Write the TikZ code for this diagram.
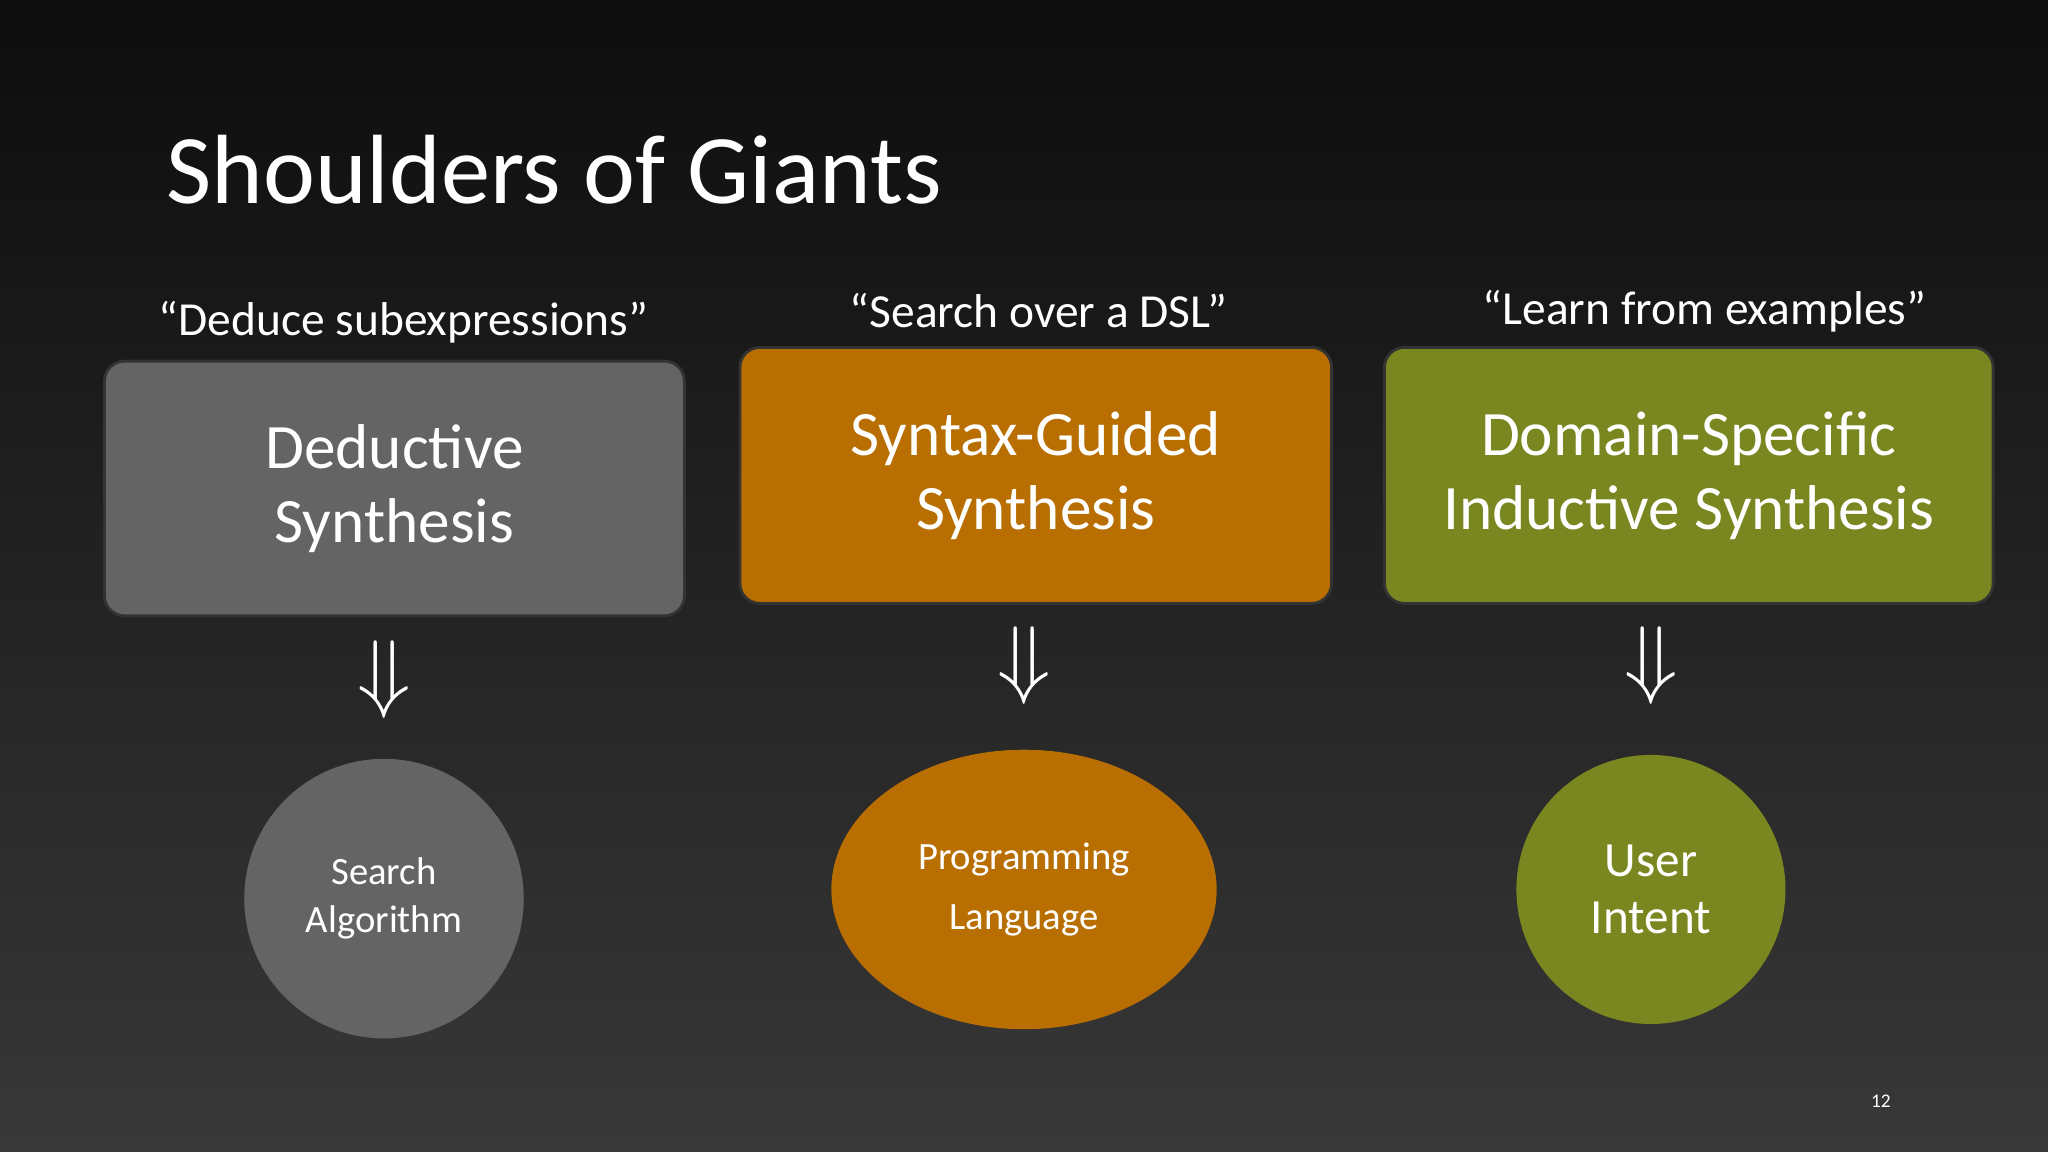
\documentclass[tikz,border=0pt]{standalone}
\usepackage{fontspec}
\setmainfont{Carlito}
\usetikzlibrary{shapes.geometric}
\definecolor{dgray}{RGB}{100,100,100}
\definecolor{dorange}{RGB}{184,110,0}
\definecolor{dolive}{RGB}{122,135,32}
\begin{document}
\begin{tikzpicture}[x=0.013061cm,y=-0.013061cm,
  box/.style={draw=black!80,line width=0.8pt,rounded corners=0.2cm,text=white,font=\fontsize{18}{21}\selectfont,align=center,inner sep=0},
  quote/.style={text=white,font=\fontsize{13.5}{16}\selectfont},
  circ/.style={ellipse,inner sep=0,text=white,align=center,font=\fontsize{11}{13.5}\selectfont},
  arr/.style={text=white,font=\fontsize{26}{30}\selectfont}]
\shade[top color=black!95,bottom color=black!78] (0,0) rectangle (1568,882);
\useasboundingbox (0,0) rectangle (1568,882);
\node[anchor=west,text=white,font=\fontsize{28}{32}\selectfont] (title) at (118,130) {Shoulders of Giants};
\node[quote] (q1) at (309,247) {“Deduce subexpressions”};
\node[quote] (q2) at (795,238) {“Search over a DSL”};
\node[quote] (q3) at (1305,238) {“Learn from examples”};
\node[box,fill=dgray,minimum width=444*0.013061cm,minimum height=195*0.013061cm] (b1) at (302,374) {Deductive\\Synthesis};
\node[box,fill=dorange,minimum width=453*0.013061cm,minimum height=196*0.013061cm] (b2) at (793,364) {Syntax-Guided\\Synthesis};
\node[box,fill=dolive,minimum width=466*0.013061cm,minimum height=196*0.013061cm] (b3) at (1293,364) {Domain-Specific\\Inductive Synthesis};
\node[arr] (a1) at (294,520) {$\Downarrow$};
\node[arr] (a2) at (784,510) {$\Downarrow$};
\node[arr] (a3) at (1264,510) {$\Downarrow$};
\node[circ,fill=dgray,minimum width=214*0.013061cm,minimum height=214*0.013061cm] (c1) at (294,688) {Search\\Algorithm};
\node[circ,fill=dorange,minimum width=295*0.013061cm,minimum height=214*0.013061cm,align=center] (c2) at (784,681) {Programming\\[0.12cm]Language};
\node[circ,fill=dolive,minimum width=206*0.013061cm,minimum height=206*0.013061cm,font=\fontsize{14}{16}\selectfont] (c3) at (1264,681) {User\\Intent};
\node[text=white,font=\fontsize{5.5}{6}\selectfont] (pg) at (1440,843) {12};
\end{tikzpicture}
\end{document}
